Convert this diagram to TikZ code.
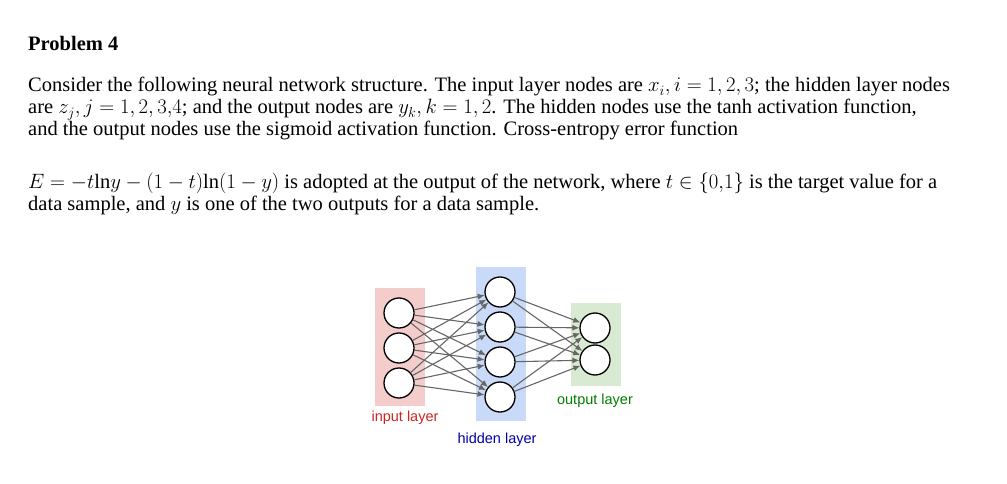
\documentclass[tikz,border=0pt]{standalone}
\usepackage{fontspec}
\usetikzlibrary{arrows.meta}
\setmainfont{Liberation Serif}
\newfontfamily\sansf{Liberation Sans}
\definecolor{inbg}{HTML}{F4CCCC}
\definecolor{hidbg}{HTML}{C9DAF8}
\definecolor{outbg}{HTML}{D9EAD3}
\begin{document}
\begin{tikzpicture}[x=1pt,y=-1pt,
  txt/.style={anchor=base west,inner sep=0pt,font=\fontsize{20.5}{24}\selectfont},
  neuron/.style={circle,draw,line width=1.3pt,fill=white,minimum size=30pt,inner sep=0pt},
  edge/.style={draw=black!60,line width=1.1pt,-{Latex[length=7pt,width=6pt]}},
  lab/.style={font=\sansf\fontsize{14.5}{16}\selectfont}]
\useasboundingbox (0,0) rectangle (1007,484);
\node[txt,font=\bfseries\fontsize{20.5}{24}\selectfont] (t0) at (28,51) {Problem 4};
\node[txt] (t1) at (28,92) {Consider the following neural network structure. The input layer nodes are $x_i, i=1,2,3$; the hidden layer nodes};
\node[txt] (t2) at (28,114) {are $z_j, j=1,2,3{,}4$; and the output nodes are $y_k, k=1,2$. The hidden nodes use the tanh activation function,};
\node[txt] (t3) at (28,136) {and the output nodes use the sigmoid activation function. Cross-entropy error function};
\node[txt] (t4) at (28,189) {$E=-t\mathrm{ln}y-(1-t)\mathrm{ln}(1-y)$ is adopted at the output of the network, where $t\in\{0{,}1\}$ is the target value for a};
\node[txt] (t5) at (28,211) {data sample, and $y$ is one of the two outputs for a data sample.};
\fill[inbg] (375,288) rectangle (425,406);
\fill[hidbg] (476,267) rectangle (526,421);
\fill[outbg] (571,303) rectangle (621,386);
\foreach \y [count=\i] in {313,348,383} \node[neuron] (x\i) at (399,\y) {};
\foreach \y [count=\i] in {292,327,362,397} \node[neuron] (z\i) at (500,\y) {};
\foreach \y [count=\i] in {328,360} \node[neuron] (y\i) at (595,\y) {};
\foreach \i in {1,2,3} \foreach \j in {1,2,3,4} \draw[edge] (x\i) -- (z\j);
\foreach \j in {1,2,3,4} \foreach \k in {1,2} \draw[edge] (z\j) -- (y\k);
\node[lab,text=red!75!black!85] (li) at (405,418) {input layer};
\node[lab,text=blue!65!black] (lh) at (497,440) {hidden layer};
\node[lab,text=green!50!black] (lo) at (595,401) {output layer};
\end{tikzpicture}
\end{document}
